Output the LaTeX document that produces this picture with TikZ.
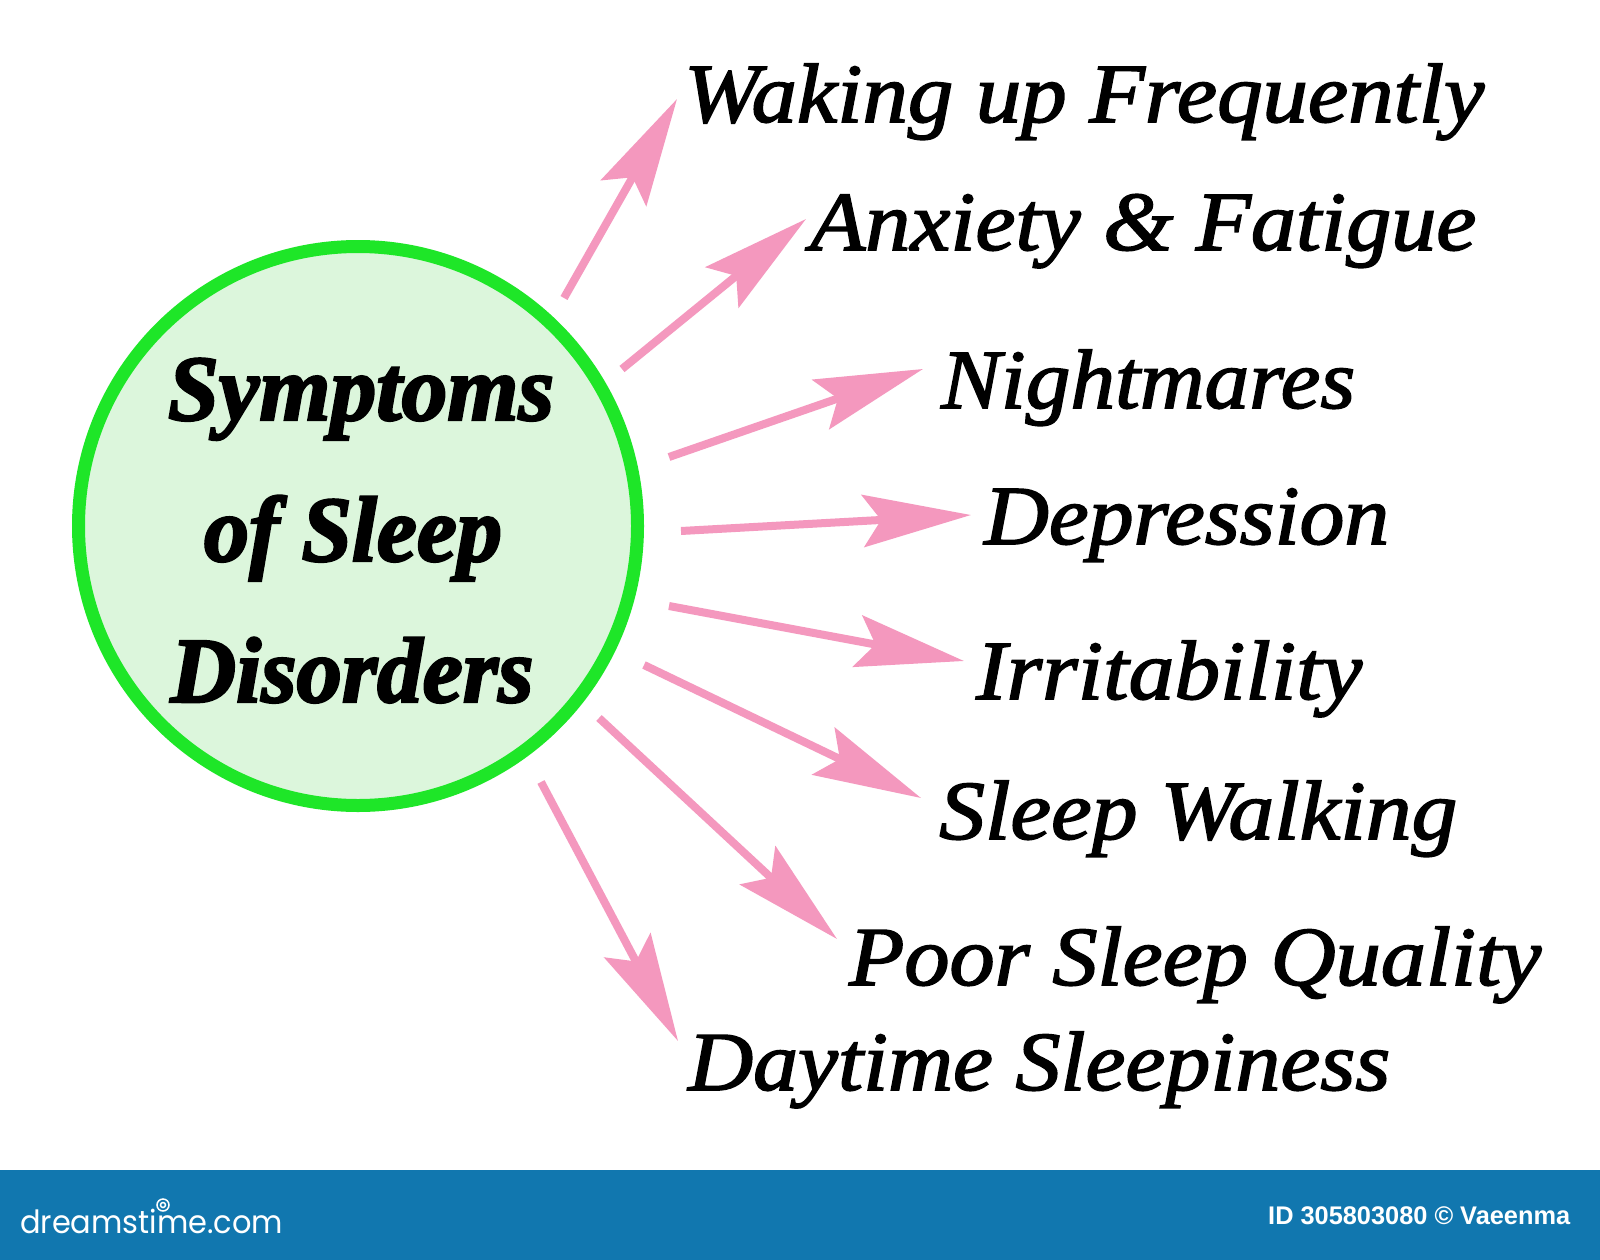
\documentclass[tikz,border=0pt]{standalone}
\usepackage{fontspec}
\usetikzlibrary{arrows.meta}
\setmainfont{Liberation Serif}
\newfontfamily\labfont[FakeBold=1.8]{Liberation Serif}
\newfontfamily\titfont[FakeBold=2.6]{Liberation Serif}
\newfontfamily\barfont{Liberation Sans}
\newfontfamily\logofont{Poppins}
\definecolor{ringgreen}{RGB}{30,230,40}
\definecolor{ringfill}{RGB}{220,246,220}
\definecolor{arrowpink}{RGB}{244,152,190}
\definecolor{barblue}{RGB}{17,119,175}
\newcommand{\lab}[2]{\resizebox{#1}{\height}{\labfont\itshape\fontsize{84pt}{84pt}\selectfont #2}}
\newcommand{\tit}[2]{\resizebox{#1}{\height}{\titfont\bfseries\itshape\fontsize{93pt}{93pt}\selectfont #2}}
\tikzset{
  label text/.style={anchor=base west, inner sep=0pt, text=black},
  title text/.style={anchor=base, inner sep=0pt, text=black},
  sym arrow/.style={draw=arrowpink, line width=8pt,
    -{Stealth[length=108pt,width=52pt,inset=18pt,fill=arrowpink]}},
}
\begin{document}
\begin{tikzpicture}[x=1pt,y=-1pt]
\useasboundingbox (0,0) rectangle (1600,1260);
\fill[white] (0,0) rectangle (1600,1260);
% central circle
\node (c) [circle, draw=ringgreen, fill=ringfill, line width=13pt,
  minimum size=559pt, inner sep=0pt] at (358,526) {};
\node (t1) [title text] at (361,420) {\tit{386pt}{Symptoms}};
\node (t2) [title text] at (353,561) {\tit{298pt}{of Sleep}};
\node (t3) [title text] at (352,702) {\tit{363pt}{Disorders}};
% labels
\node (l1) [label text] at (684,122) {\lab{800pt}{Waking up Frequently}};
\node (l2) [label text] at (810,250) {\lab{666pt}{Anxiety \& Fatigue}};
\node (l3) [label text] at (941,408) {\lab{414pt}{Nightmares}};
\node (l4) [label text] at (984,544) {\lab{405pt}{Depression}};
\node (l5) [label text] at (976,699) {\lab{386pt}{Irritability}};
\node (l6) [label text] at (939,839) {\lab{518pt}{Sleep Walking}};
\node (l7) [label text] at (849,985) {\lab{692pt}{Poor Sleep Quality}};
\node (l8) [label text] at (688,1090) {\lab{702pt}{Daytime Sleepiness}};
% arrow ends
\coordinate (s1) at (564,298); \coordinate (e1) at (677,99);
\coordinate (s2) at (622,369); \coordinate (e2) at (806,219);
\coordinate (s3) at (669,457); \coordinate (e3) at (923,369);
\coordinate (s4) at (681,531); \coordinate (e4) at (971,515);
\coordinate (s5) at (669,606); \coordinate (e5) at (964,661);
\coordinate (s6) at (644,665); \coordinate (e6) at (921,798);
\coordinate (s7) at (599,718); \coordinate (e7) at (837,939);
\coordinate (s8) at (541,782); \coordinate (e8) at (678,1041);
\foreach \i in {1,...,8} { \draw[sym arrow] (s\i) -- (e\i); }
% bottom bar
\fill[barblue] (0,1170) rectangle (1600,1260);
\node (logo) [anchor=base west, inner sep=0pt, text=white] at (20,1233)
  {\resizebox{263pt}{\height}{\logofont\fontsize{32pt}{32pt}\selectfont dreamstime.com}};
\draw[white, line width=1.5pt] (163,1205) circle (6pt);
\draw[white, line width=1.5pt] (163,1205) circle (2.5pt);
\node (id) [anchor=base west, inner sep=0pt, text=white] at (1268,1224)
  {\resizebox{302pt}{\height}{\barfont\bfseries\fontsize{25.5pt}{25.5pt}\selectfont ID 305803080 \textcopyright{} Vaeenma}};
\end{tikzpicture}
\end{document}
